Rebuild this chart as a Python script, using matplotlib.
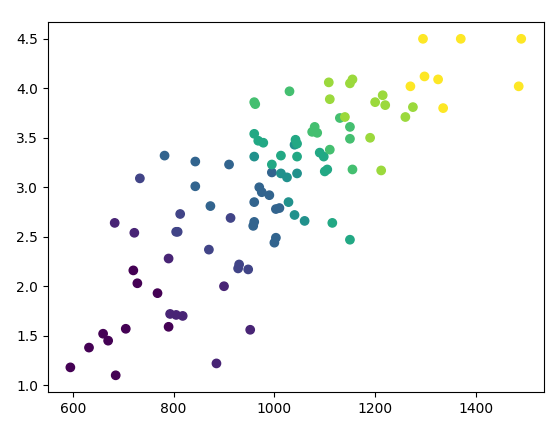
import matplotlib
matplotlib.use("Agg")
import matplotlib.pyplot as plt
import numpy as np

groups = [
 (0.0, [(595,1.18),(632,1.38),(660,1.52),(670,1.45),(685,1.10),(705,1.57),(720,2.16),(728,2.03),(768,1.93),(790,1.59)]),
 (0.1, [(683,2.64),(722,2.54),(790,2.28),(793,1.72),(805,1.71),(818,1.70),(885,1.22),(900,2.0),(952,1.56)]),
 (0.2, [(733,3.09),(805,2.55),(808,2.55),(813,2.73),(870,2.37),(928,2.18),(930,2.22),(948,2.17),(913,2.69)]),
 (0.32, [(782,3.32),(843,3.26),(843,3.01),(873,2.81),(910,3.23),(960,2.85),(960,2.65),(958,2.61),(1000,2.44),(1003,2.49),(990,2.92),(970,3.0),(975,2.95),(1003,2.78),(1010,2.79),(995,3.15)]),
 (0.5, [(960,3.31),(1013,3.14),(1025,3.10),(1028,2.85),(1040,2.72),(1060,2.66),(1040,3.43),(1045,3.14)]),
 (0.6, [(960,3.54),(968,3.47),(978,3.45),(995,3.23),(1013,3.32),(1045,3.44),(1045,3.31),(1042,3.48),(1115,2.64),(1150,2.47),(1090,3.35),(1098,3.31),(1100,3.16),(1105,3.18)]),
 (0.7, [(960,3.86),(962,3.84),(1030,3.97),(1075,3.56),(1080,3.61),(1085,3.55),(1110,3.38),(1130,3.70),(1150,3.49),(1150,3.61),(1155,3.18)]),
 (0.85, [(1108,4.06),(1110,3.89),(1140,3.71),(1150,4.05),(1155,4.09),(1190,3.50),(1200,3.86),(1215,3.93),(1220,3.83),(1260,3.71),(1212,3.17),(1275,3.81)]),
 (1.0, [(1270,4.02),(1295,4.50),(1298,4.12),(1325,4.09),(1335,3.80),(1370,4.50),(1485,4.02),(1490,4.50)]),
]
x = [p[0] for c, pts in groups for p in pts]
y = [p[1] for c, pts in groups for p in pts]
cv = [c for c, pts in groups for p in pts]

fig, ax = plt.subplots(figsize=(5.56, 4.23), dpi=100)
fig.subplots_adjust(left=0.086, right=0.978, top=0.948, bottom=0.073)
ax.scatter(x, y, c=cv, cmap='viridis', vmin=0, vmax=1)
ax.set_xticks([600, 800, 1000, 1200, 1400])
fig.savefig("out.png")
